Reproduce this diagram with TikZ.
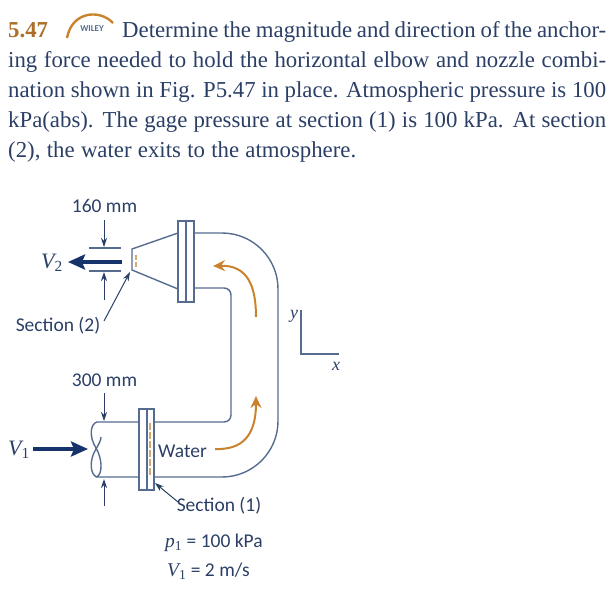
\documentclass[tikz,border=0pt]{standalone}
\usepackage{fontspec}
\setmainfont{Liberation Serif}
\newfontfamily\labelfont{Carlito}
\usetikzlibrary{arrows.meta}
\definecolor{inkblue}{HTML}{2B3F66}
\definecolor{pipeblue}{HTML}{556C90}
\definecolor{flowblue}{HTML}{17336B}
\definecolor{floworange}{HTML}{C9832F}
\NewDocumentCommand{\probline}{m}{\makebox[598pt][s]{#1}}
\NewDocumentCommand{\symb}{mm}{{\rmfamily\itshape #1}\textsubscript{\rmfamily #2}}
\tikzset{/FIG/S/text/.style={
	anchor=base west, inner sep=0pt, text=inkblue, font=\fontsize{22.8}{28}\selectfont
}}
\tikzset{/FIG/S/label/.style={
	inner sep=0pt, text=inkblue, font=\labelfont\fontsize{19.5}{24}\selectfont
}}
\tikzset{/FIG/S/pipe/.style={
	draw=pipeblue, line width=1.4pt
}}
\tikzset{/FIG/S/dim/.style={
	draw=inkblue, line width=1pt, -{Stealth[length=9pt,width=6pt]}
}}
\tikzset{/FIG/S/flow/.style={
	draw=flowblue, line width=4pt, -{Stealth[length=17pt,width=15pt,inset=3pt]}
}}
\tikzset{/FIG/S/swirl/.style={
	draw=floworange, line width=2pt, -{Stealth[length=12pt,width=11pt]}
}}

\begin{document}
\begin{tikzpicture}[x=1pt, y=-1pt]
	\useasboundingbox (0,0) rectangle (616,595);
	% problem statement
	\path (8,37) node[/FIG/S/text, text=floworange!85!black, font=\fontsize{22.8}{28}\selectfont\bfseries] (number) {5.47};
	\path (122,37) node[/FIG/S/text] (line1) {\makebox[484pt][s]{Determine the magnitude and direction of the anchor-}};
	\path (8,67) node[/FIG/S/text] (line2) {\probline{ing force needed to hold the horizontal elbow and nozzle combi-}};
	\path (8,97) node[/FIG/S/text] (line3) {\probline{nation shown in Fig. P5.47 in place. Atmospheric pressure is 100}};
	\path (8,127) node[/FIG/S/text] (line4) {\probline{kPa(abs). The gage pressure at section (1) is 100 kPa. At section}};
	\path (8,157) node[/FIG/S/text] (line5) {\makebox[348pt][s]{(2), the water exits to the atmosphere.}};
	% logo
	\path (92,29) node[inner sep=0pt, text=pipeblue, font=\labelfont\bfseries\fontsize{9}{9}\selectfont] (logo) {WILEY};
	\draw[draw=floworange, line width=2.4pt] (67,38) .. controls (72,11) and (100,9) .. (113,23);
	% upper part of the pipe
	\path[/FIG/S/pipe] (178,221) rectangle (194,302);
	\draw[/FIG/S/pipe] (186,221) -- (186,302);
	\draw[/FIG/S/pipe] (178,233) -- (132,249) -- (132,270) -- (178,289);
	\draw[draw=floworange!70, line width=1.2pt, dash pattern=on 5pt off 2pt] (136,255) -- (136,269);
	\draw[/FIG/S/pipe] (194,233) -- (222,233) arc[start angle=-90, end angle=0, radius=56] -- (278,421) arc[start angle=0, end angle=90, radius=56] -- (154,477);
	\draw[/FIG/S/pipe] (194,288) -- (224,288) arc[start angle=-90, end angle=0, radius=7] -- (231,415) arc[start angle=0, end angle=90, radius=7] -- (154,422);
	% lower part of the pipe
	\path[/FIG/S/pipe] (139,409) rectangle (154,490);
	\draw[/FIG/S/pipe] (147,409) -- (147,490);
	\draw[draw=floworange!70, line width=1.6pt, dash pattern=on 7pt off 2pt] (150,423) -- (150,476);
	\draw[/FIG/S/pipe] (139,422) -- (97,422) .. controls (90,424) and (89,437) .. (96,448) .. controls (102,458) and (103,473) .. (97,477) -- (139,477);
	\draw[/FIG/S/pipe] (97,477) .. controls (90,475) and (89,460) .. (96,449) .. controls (99,444) and (101,440) .. (101,437);
	% section 2 dimension
	\path (104.5,206) node[/FIG/S/label] (D2) {160 mm};
	\coordinate (D2top) at (104,220);
	\coordinate (D2a) at (104,247);
	\coordinate (D2bot) at (104,300);
	\coordinate (D2b) at (104,272);
	\draw[/FIG/S/dim] (D2top) -- (D2a);
	\draw[/FIG/S/dim] (D2bot) -- (D2b);
	\draw[draw=pipeblue, line width=1.4pt] (89,248) -- (121,248);
	\draw[draw=pipeblue, line width=1.4pt] (89,271) -- (121,271);
	% exit jet
	\path (52,263) node[/FIG/S/label, font=\fontsize{22}{24}\selectfont] (V2) {\symb{V}{2}};
	\coordinate (jet) at (122,262);
	\coordinate (jettip) at (68,262);
	\draw[/FIG/S/flow] (jet) -- (jettip);
	% section labels
	\path (58,326) node[/FIG/S/label] (S2) {Section (2)};
	\coordinate (S2tail) at (104,321);
	\coordinate (S2tip) at (130,272);
	\draw[/FIG/S/dim] (S2tail) -- (S2tip);
	\path (219,506) node[/FIG/S/label] (S1) {Section (1)};
	\coordinate (S1tail) at (178,502);
	\coordinate (S1tip) at (155,483);
	\draw[/FIG/S/dim] (S1tail) -- (S1tip);
	% section 1 dimension
	\path (104.5,380) node[/FIG/S/label] (D1) {300 mm};
	\coordinate (D1top) at (104,393);
	\coordinate (D1a) at (104,421);
	\coordinate (D1bot) at (104,506);
	\coordinate (D1b) at (104,479);
	\draw[/FIG/S/dim] (D1top) -- (D1a);
	\draw[/FIG/S/dim] (D1bot) -- (D1b);
	% inlet
	\path (19,450) node[/FIG/S/label, font=\fontsize{22}{24}\selectfont] (V1) {\symb{V}{1}};
	\coordinate (inlet) at (88,449);
	\coordinate (inletstart) at (33,449);
	\draw[/FIG/S/flow] (inletstart) -- (inlet);
	% water and flow arrows
	\path (182.5,451) node[/FIG/S/label] (water) {Water};
	\coordinate (swirlA) at (215,449);
	\coordinate (swirlB) at (256,396);
	\coordinate (swirlC) at (256,317);
	\coordinate (swirlD) at (213,266);
	\draw[/FIG/S/swirl] (swirlA) .. controls (242,450) and (256,436) .. (swirlB);
	\draw[/FIG/S/swirl] (swirlC) .. controls (256,285) and (247,265) .. (swirlD);
	% values
	\path (165,543) node[/FIG/S/label, anchor=west] (p1) {\symb{p}{1} = 100 kPa};
	\path (167,571) node[/FIG/S/label, anchor=west] (v1) {\symb{V}{1} = 2 m/s};
	% axes
	\coordinate (origin) at (301,354);
	\coordinate (yend) at (301,310);
	\coordinate (xend) at (339,354);
	\draw[draw=pipeblue, line width=1.5pt] (yend) -- (origin) -- (xend);
	\path (294,316) node[/FIG/S/label, font=\fontsize{18}{20}\selectfont\itshape] (ylabel) {y};
	\path (336,366) node[/FIG/S/label, font=\fontsize{18}{20}\selectfont\itshape] (xlabel) {x};
\end{tikzpicture}
\end{document}
